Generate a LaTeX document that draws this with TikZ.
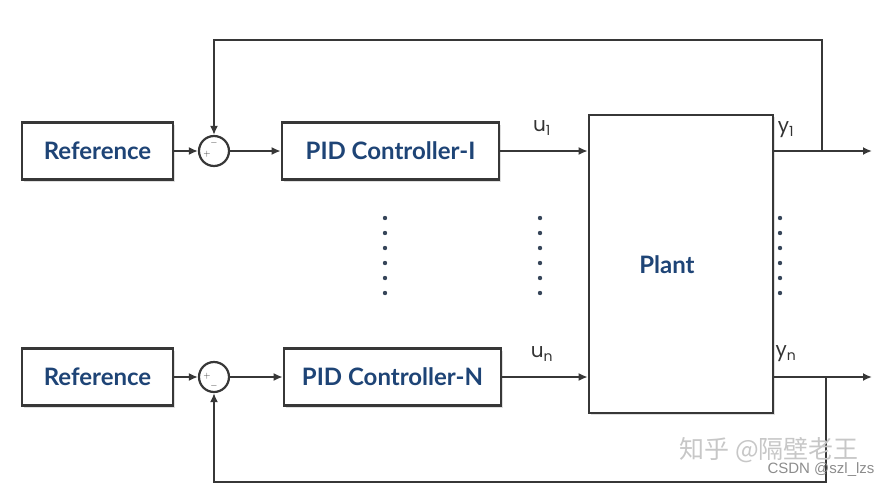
\documentclass[tikz,border=0pt]{standalone}
\usepackage{fontspec}
\setmainfont{Lato}
\newfontfamily\labelfont{Poppins}
\newfontfamily\cjk{Noto Sans CJK SC}
\newfontfamily\markfont{Liberation Sans}
\usetikzlibrary{arrows.meta,shadows}
\definecolor{refblue}{RGB}{30,68,118}
\definecolor{linegray}{RGB}{55,55,55}
\definecolor{dotgray}{RGB}{55,70,90}

\begin{document}
\begin{tikzpicture}[x=1pt,y=-1pt,
    blockbox/.style={draw=linegray,line width=2.6pt,fill=white,minimum height=57pt,
      text=refblue,font=\bfseries\fontsize{24}{26}\selectfont,
      drop shadow={opacity=0.25,shadow xshift=1.5pt,shadow yshift=-2pt}},
    sumbox/.style={draw=linegray,line width=2.2pt,circle,minimum size=30pt,inner sep=0pt},
    sig/.style={draw=linegray,line width=2.2pt,-{Latex[length=9pt,width=8pt]}},
    siglabel/.style={font=\labelfont\fontsize{20}{22}\selectfont,text=black!80},
    signmark/.style={font=\bfseries\fontsize{9}{9}\selectfont,inner sep=0pt,text=linegray}]
        \useasboundingbox (0,0) rectangle (892,488);

        % obere Schleife
        \node[blockbox,minimum width=151pt] (ref1) at (97.5,151) {Reference};
        \node[sumbox] (sum1) at (214,151) {};
        \node[blockbox,minimum width=217pt] (pid1) at (390.5,151) {PID Controller-I};

        % untere Schleife
        \node[blockbox,minimum width=151pt] (ref2) at (97.5,377) {Reference};
        \node[sumbox] (sum2) at (214,377) {};
        \node[blockbox,minimum width=217pt] (pidN) at (392.5,377) {PID Controller-N};

        % Strecke
        \node[blockbox,minimum width=184pt,minimum height=298pt] (plant) at (681,264) {};
        \node[text=refblue,font=\bfseries\fontsize{24}{26}\selectfont] (plantlabel) at (667,265) {Plant};

        % Vorzeichen
        \node[signmark] (m1) at (214,143) {$-$};
        \node[signmark] (p1) at (207,154) {$+$};
        \node[signmark] (p2) at (207,376) {$+$};
        \node[signmark] (m2) at (214,386) {$-$};

        % Signale
        \draw[sig] (ref1.east) -- (sum1.west);
        \draw[sig] (sum1.east) -- (pid1.west);
        \draw[sig] (pid1.east) -- (pid1.east -| plant.west);
        \draw[sig] (ref2.east) -- (sum2.west);
        \draw[sig] (sum2.east) -- (pidN.west);
        \draw[sig] (pidN.east) -- (pidN.east -| plant.west);

        \coordinate (out1) at (872,151);
        \coordinate (outN) at (872,377);
        \draw[sig] (plant.east |- out1) -- (out1);
        \draw[sig] (plant.east |- outN) -- (outN);

        % Rueckfuehrung
        \coordinate (br1) at (822,151);
        \coordinate (top1) at (214,40);
        \draw[sig] (br1) -- (br1 |- top1) -- (top1) -- (sum1.north);
        \coordinate (br2) at (826,377);
        \coordinate (bot2) at (214,482);
        \draw[sig] (br2) -- (br2 |- bot2) -- (bot2) -- (sum2.south);

        % Beschriftungen
        \node[siglabel] (u1) at (542,128) {u\textsubscript{1}};
        \node[siglabel] (un) at (542,354) {u\textsubscript{n}};
        \node[siglabel] (y1) at (786,130) {y\textsubscript{1}};
        \node[siglabel] (yn) at (786,354) {y\textsubscript{n}};

        % Punkte
        \foreach \x in {385,540,780}
            \foreach \y in {218,233,...,293}
                \fill[dotgray] (\x,\y) circle (2.2pt);

        % Wasserzeichen
        \node[text=black!22,font=\cjk\fontsize{25}{27}\selectfont,anchor=west] (wm1) at (676,450) {知乎 @隔壁老王};
        \node[text=black!45,font=\markfont\fontsize{15}{16}\selectfont,anchor=east] (wm2) at (878,470) {CSDN @szl\_lzs};
    \end{tikzpicture}
\end{document}
